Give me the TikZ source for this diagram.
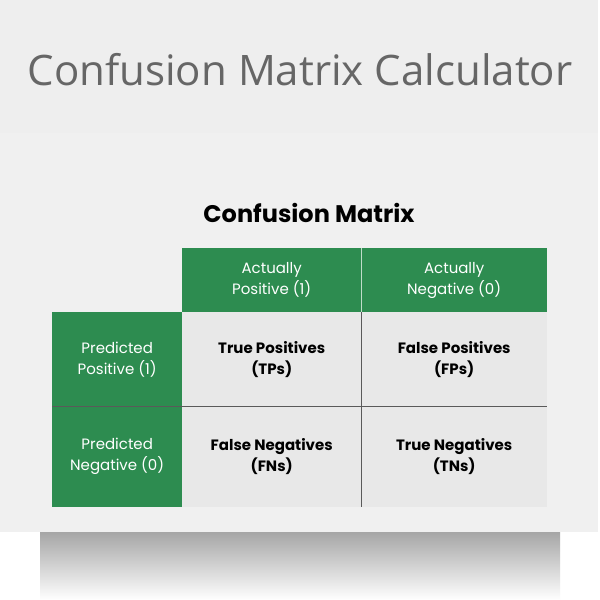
\documentclass[tikz,border=0pt]{standalone}
\usepackage{fontspec}
\setmainfont{Open Sans}
\newfontfamily\cellfont{Poppins}
\usetikzlibrary{positioning}
\definecolor{cardgray}{HTML}{F0F0F0}
\definecolor{topgray}{HTML}{EEEEEE}
\definecolor{titlegray}{HTML}{666666}
\definecolor{matgreen}{HTML}{2D8C50}
\definecolor{cellgray}{HTML}{E8E8E8}
\definecolor{rulegray}{HTML}{5A5A5A}
\tikzset{
  head/.style={fill=matgreen, text=white, minimum width=#1, minimum height=64pt,
    inner sep=0pt, align=center, font=\cellfont\fontsize{15}{21}\selectfont},
  side/.style={fill=matgreen, text=white, minimum width=130pt, minimum height=#1,
    inner sep=0pt, align=center, font=\cellfont\fontsize{15}{21}\selectfont},
  cell/.style={fill=cellgray, text=black, minimum width=#1, minimum height=96pt,
    inner sep=0pt, align=center, font=\cellfont\bfseries\fontsize{15}{21}\selectfont},
}
\begin{document}
\begin{tikzpicture}[x=1pt,y=-1pt]
\useasboundingbox (0,0) rectangle (600,600);
\fill[white] (0,0) rectangle (600,600);

%shadow under the card
\shade[top color=black!35, bottom color=white] (40,532) rectangle (560,600);

%card
\fill[cardgray] (0,0) rectangle (598,532);
\fill[topgray] (0,0) rectangle (598,133);

\node[text=titlegray, font=\fontsize{42}{50}\selectfont] (title) at (300,70) {Confusion Matrix Calculator};
\node[font=\cellfont\fontsize{24}{28}\selectfont\bfseries] (mtitle) at (309,213) {Confusion Matrix};

%header row
\node[head=179pt, anchor=north west] (ap) at (182,248) {Actually\\Positive (1)};
\node[head=186pt, anchor=north west] (an) at (361,248) {Actually\\Negative (0)};
%side column
\node[side=94pt, anchor=north west] (pp) at (52,312) {Predicted\\Positive (1)};
\node[side=101pt, anchor=north west] (pn) at (52,406) {Predicted\\Negative (0)};
%body
\node[cell=179pt, minimum height=94pt, anchor=north west] (tp) at (182,312) {True Positives\\(TPs)};
\node[cell=186pt, minimum height=94pt, anchor=north west] (fp) at (361,312) {False Positives\\(FPs)};
\node[cell=179pt, minimum height=101pt, anchor=north west] (fn) at (182,406) {False Negatives\\(FNs)};
\node[cell=186pt, minimum height=101pt, anchor=north west] (tn) at (361,406) {True Negatives\\(TNs)};

%rules
\draw[rulegray, line width=1pt] (tp.north east) -- (fn.south east);
\draw[rulegray, line width=1pt] (pp.south west) -- (fp.south east);
\draw[white!70!matgreen, line width=0.8pt] (ap.north east) -- (ap.south east);
\end{tikzpicture}
\end{document}
